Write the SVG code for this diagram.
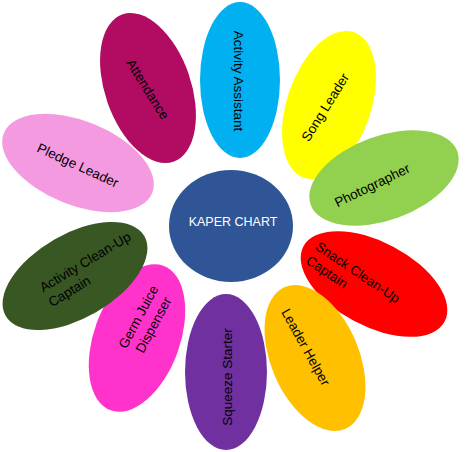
<svg xmlns="http://www.w3.org/2000/svg" width="474" height="452" viewBox="0 0 474 452">
<style>
text{font-family:"Liberation Sans",Arial,sans-serif;font-size:13.5px;fill:#000}
.c{text-anchor:middle}
.s{text-anchor:start}
</style>
<rect width="474" height="452" fill="#fff"/>
<g id="connectors"/>
<g id="activity-assistant">
<ellipse cx="240" cy="80" rx="40" ry="78" fill="#00B0F0"/>
<text class="c" transform="translate(239,81) rotate(90)" y="5">Activity Assistant</text>
</g>
<g id="song-leader">
<ellipse transform="translate(329,105) rotate(19)" rx="42" ry="77" fill="#FFFF00"/>
<text class="c" transform="translate(325,107) rotate(-58)" y="5">Song Leader</text>
</g>
<g id="photographer">
<ellipse transform="translate(384,178) rotate(-20)" rx="78" ry="42" fill="#92D050"/>
<text class="c" transform="translate(372,185) rotate(-26)" y="5">Photographer</text>
</g>
<g id="snack-cleanup">
<ellipse transform="translate(374,284) rotate(28)" rx="80" ry="42" fill="#FF0000"/>
<text class="s" transform="translate(358,272) rotate(34)"><tspan x="-49" y="5">Snack Clean-Up</tspan><tspan x="-49" y="22">Captain</tspan></text>
</g>
<g id="leader-helper">
<ellipse transform="translate(315,358) rotate(-23)" rx="44" ry="77" fill="#FFC000"/>
<text class="c" transform="translate(306,347) rotate(61)" y="5">Leader Helper</text>
</g>
<g id="squeeze-starter">
<ellipse cx="226" cy="372" rx="41" ry="78" fill="#7030A0"/>
<text class="c" transform="translate(227,377) rotate(-90)" y="5">Squeeze Starter</text>
</g>
<g id="germ-juice">
<ellipse transform="translate(137,338) rotate(20)" rx="43" ry="77" fill="#FF33CC"/>
<text class="c" transform="translate(146,321) rotate(-62)"><tspan x="0" y="-4">Germ Juice</tspan><tspan x="0" y="13">Dispenser</tspan></text>
</g>
<g id="activity-cleanup">
<ellipse transform="translate(75,276) rotate(-30)" rx="80" ry="42" fill="#385723"/>
<text class="s" transform="translate(86,261) rotate(-31)"><tspan x="-53" y="5">Activity Clean-Up</tspan><tspan x="-53" y="22">Captain</tspan></text>
</g>
<g id="pledge-leader">
<ellipse transform="translate(78,163) rotate(22)" rx="80" ry="42" fill="#F49AE0"/>
<text class="c" transform="translate(78,165) rotate(24.5)" y="5">Pledge Leader</text>
</g>
<g id="attendance">
<ellipse transform="translate(148,88) rotate(-19)" rx="43" ry="78" fill="#B10C62"/>
<text class="c" transform="translate(148,89) rotate(58)" y="5">Attendance</text>
</g>
<g id="kaper-chart">
<ellipse cx="231" cy="226" rx="62" ry="56" fill="#2F5597"/>
<text class="c" x="233" y="226" style="fill:#fff;font-size:12.5px">KAPER CHART</text>
</g>
</svg>
